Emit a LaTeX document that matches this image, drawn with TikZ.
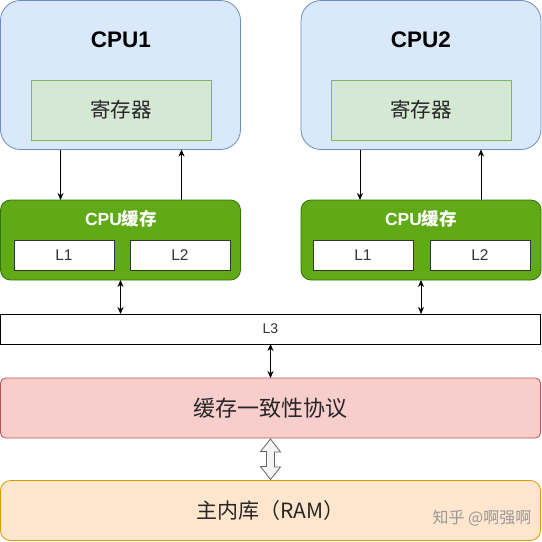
\documentclass[tikz,border=0pt]{standalone}
\usepackage{fontspec}
\setmainfont{Liberation Sans}
\newfontfamily\cjk{Noto Sans CJK SC}
\usetikzlibrary{arrows.meta}
\definecolor{cpufill}{HTML}{DAE8FC}
\definecolor{cpudraw}{HTML}{6C8EBF}
\definecolor{regfill}{HTML}{D5E8D4}
\definecolor{regdraw}{HTML}{82B366}
\definecolor{cachefill}{HTML}{60A917}
\definecolor{cachedraw}{HTML}{2D7600}
\definecolor{protofill}{HTML}{F8CECC}
\definecolor{protodraw}{HTML}{B85450}
\definecolor{ramfill}{HTML}{FFE6CC}
\definecolor{ramdraw}{HTML}{D79B00}
\definecolor{hollowfill}{HTML}{F5F5F5}
\definecolor{hollowdraw}{HTML}{666666}
\tikzset{
  box/.style={rectangle, anchor=north west, inner sep=0pt, outer sep=0pt, line width=0.8pt},
  cpubox/.style={box, rounded corners=20pt, fill=cpufill, draw=cpudraw, minimum width=240pt, minimum height=149pt},
  regbox/.style={box, fill=regfill, draw=regdraw, minimum width=180pt, minimum height=60pt, font=\cjk\fontsize{20.5}{24}\selectfont, text=black!85},
  cachebox/.style={box, rounded corners=10pt, fill=cachefill, draw=cachedraw, minimum width=240pt, minimum height=80pt},
  lbox/.style={box, fill=white, draw=black!80, minimum width=100pt, minimum height=30pt, font=\fontsize{15.5}{18}\selectfont, text=black!80},
  wide/.style={box, minimum width=540pt},
  cputitle/.style={font=\bfseries\fontsize{22.5}{26}\selectfont},
  cachetitle/.style={text=white, font=\bfseries\fontsize{17.5}{20}\selectfont},
  arr/.style={line width=0.8pt, -{Stealth[length=7pt,width=6pt]}},
  darr/.style={line width=0.8pt, {Stealth[length=7pt,width=6pt]}-{Stealth[length=7pt,width=6pt]}},
}
\begin{document}
\begin{tikzpicture}[x=1pt,y=-1pt]
\useasboundingbox (0,0) rectangle (542,542);
% CPU boxes
\node[cpubox] (cpu1) at (0.5,0.5) {};
\node[cpubox] (cpu2) at (301,0.5) {};
\node[cputitle] (t1) at (121,40) {CPU1};
\node[cputitle] (t2) at (421,40) {CPU2};
\node[regbox] (reg1) at (31,80) {寄存器};
\node[regbox] (reg2) at (331,80) {寄存器};
% cache boxes
\node[cachebox] (cache1) at (0.5,200) {};
\node[cachebox] (cache2) at (301,200) {};
\node[cachetitle] (ct1) at (121,219) {CPU{\cjk 缓存}};
\node[cachetitle] (ct2) at (421,219) {CPU{\cjk 缓存}};
\node[lbox] (l11) at (14,240) {L1};
\node[lbox] (l21) at (130,240) {L2};
\node[lbox] (l12) at (313,240) {L1};
\node[lbox] (l22) at (430,240) {L2};
% L3
\node[wide, fill=white, draw=black, minimum height=30pt, font=\fontsize{14}{16}\selectfont, text=black!80] (l3) at (0.5,314) {L3};
% protocol
\node[wide, rounded corners=5pt, fill=protofill, draw=protodraw, minimum height=60pt, font=\cjk\fontsize{22}{26}\selectfont, text=black!85] (proto) at (0.5,378) {缓存一致性协议};
% RAM
\node[wide, rounded corners=10pt, fill=ramfill, draw=ramdraw, minimum height=60pt, font=\cjk\fontsize{21}{25}\selectfont, text=black!85] (ram) at (0.5,480.5) {主内库（RAM）};
% arrows CPU <-> cache
\draw[arr] ([xshift=60pt]cpu1.south west) -- ([xshift=60pt]cache1.north west);
\draw[arr] ([xshift=181pt]cache1.north west) -- ([xshift=181pt]cpu1.south west);
\draw[arr] ([xshift=59pt]cpu2.south west) -- ([xshift=59pt]cache2.north west);
\draw[arr] ([xshift=180pt]cache2.north west) -- ([xshift=180pt]cpu2.south west);
% cache <-> L3
\draw[darr] (cache1.south) -- (cache1.south |- l3.north);
\draw[darr] (cache2.south) -- (cache2.south |- l3.north);
% L3 <-> protocol
\draw[darr] (l3.south) -- (proto.north);
% hollow double arrow protocol <-> RAM
\coordinate (ht) at (proto.south);
\coordinate (hb) at (ram.north);
\draw[fill=hollowfill, draw=hollowdraw, line width=0.8pt]
  ([yshift=-1pt]ht) -- ++(10,13) -- ++(-6,0) -- ++(0,15) -- ++(6,0)
  -- ([yshift=1pt]hb) -- ++(-10,-13) -- ++(6,0) -- ++(0,-15) -- ++(-6,0) -- cycle;
% watermark
\node[font=\cjk\fontsize{16}{18}\selectfont, text=black!40] (wm) at (482,518) {知乎 @啊强啊};
\end{tikzpicture}
\end{document}
